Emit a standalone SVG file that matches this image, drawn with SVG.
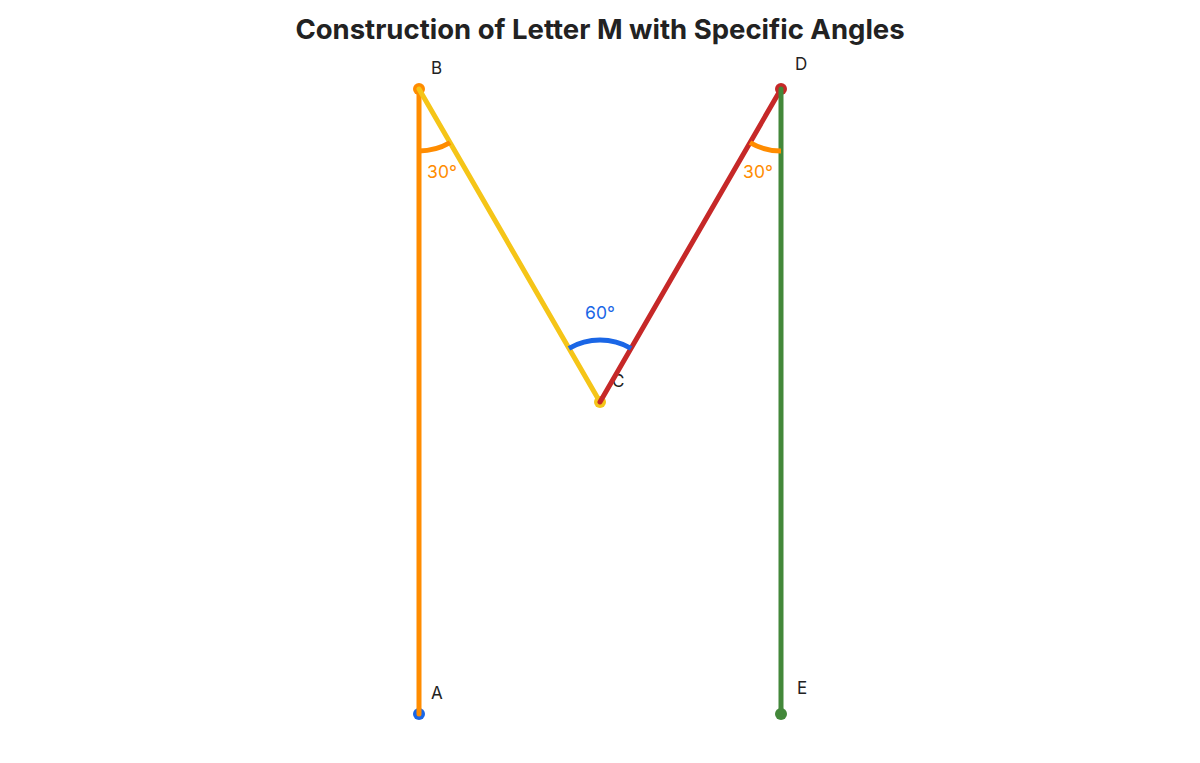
<svg xmlns="http://www.w3.org/2000/svg" width="1200" height="763" viewBox="0 0 1200 763">
<style>
.title{font-family:Inter,"Open Sans","Liberation Sans",sans-serif;font-weight:700;font-size:27.5px;fill:#222;text-anchor:middle}
.lbl{font-family:Inter,"Open Sans","Liberation Sans",sans-serif;font-size:17px;fill:#222}
.ang{font-family:Inter,"Open Sans","Liberation Sans",sans-serif;font-size:17.5px}
.seg{stroke-width:5;stroke-linecap:round;fill:none}
.arc{stroke-width:5;fill:none}
</style>
<rect width="1200" height="763" fill="#fff"/>
<text class="title" x="600" y="39">Construction of Letter M with Specific Angles</text>
<g id="points">
<g id="A"><circle cx="419" cy="714" r="6" fill="#1a66e6"/><text class="lbl" x="431" y="699">A</text></g>
<g id="B"><circle cx="419" cy="89" r="6" fill="#ff8c00"/><text class="lbl" x="431" y="74">B</text></g>
<g id="C"><circle cx="600" cy="402" r="6" fill="#f5c518"/><text class="lbl" x="612" y="387">C</text></g>
<g id="D"><circle cx="781" cy="89" r="6" fill="#c62828"/><text class="lbl" x="795" y="70">D</text></g>
<g id="E"><circle cx="781" cy="714" r="6" fill="#43883a"/><text class="lbl" x="797" y="694">E</text></g>
</g>
<g id="connectors">
<line class="seg" x1="419" y1="714" x2="419" y2="89" stroke="#ff8c00"/>
<line class="seg" x1="419" y1="89" x2="600" y2="402" stroke="#f5c518"/>
<line class="seg" x1="600" y1="402" x2="781" y2="89" stroke="#c62828"/>
<line class="seg" x1="781" y1="89" x2="781" y2="714" stroke="#43883a"/>
</g>
<g id="angleB">
<path class="arc" d="M419,151 A62,62 0 0 0 450,142.7" stroke="#ff8c00"/>
<text class="ang" x="442" y="178" fill="#ff8c00" text-anchor="middle">30°</text>
</g>
<g id="angleD">
<path class="arc" d="M781,151 A62,62 0 0 1 750,142.7" stroke="#ff8c00"/>
<text class="ang" x="758" y="178" fill="#ff8c00" text-anchor="middle">30°</text>
</g>
<g id="angleC">
<path class="arc" d="M569,348.3 A62,62 0 0 1 631,348.3" stroke="#1a66e6"/>
<text class="ang" x="600" y="319" fill="#1a66e6" text-anchor="middle">60°</text>
</g>
</svg>
